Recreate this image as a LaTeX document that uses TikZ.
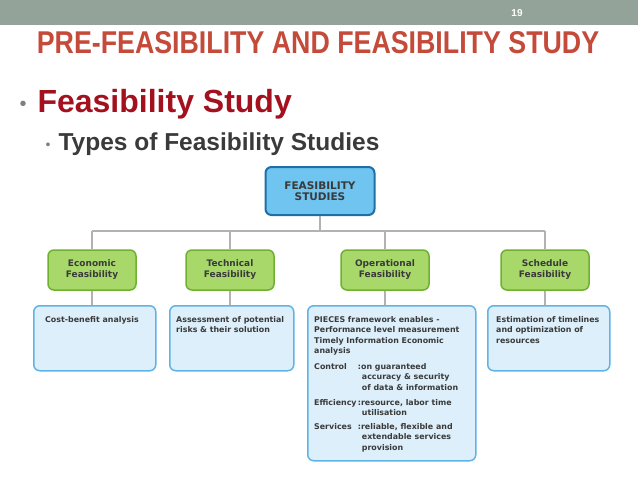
\documentclass[tikz,border=0pt]{standalone}
\usepackage{fontspec}
\setmainfont{Liberation Sans}
\newfontfamily\boxfont{DejaVu Sans}
\definecolor{barcol}{HTML}{93A39A}
\definecolor{titred}{HTML}{C44A3A}
\definecolor{darkred}{HTML}{A3101E}
\definecolor{topfill}{HTML}{6FC4F0}
\definecolor{topdraw}{HTML}{1E6FA8}
\definecolor{grfill}{HTML}{A8D86A}
\definecolor{grdraw}{HTML}{6FB030}
\definecolor{blfill}{HTML}{DCEFFA}
\definecolor{bldraw}{HTML}{5FB4E6}
\definecolor{txtgray}{HTML}{3A3A3A}
\begin{document}
\begin{tikzpicture}[x=1pt,y=-1pt,
  topbox/.style={draw=topdraw,line width=2pt,fill=topfill,rounded corners=6pt,minimum width=109pt,minimum height=48pt,align=center,font=\boxfont\bfseries\fontsize{10.5}{11.5}\selectfont,text=txtgray},
  greenbox/.style={draw=grdraw,line width=1.5pt,fill=grfill,rounded corners=6pt,minimum width=88pt,minimum height=40pt,align=center,font=\boxfont\bfseries\fontsize{9}{11}\selectfont,text=txtgray},
  bluebox/.style={draw=bldraw,line width=1.5pt,fill=blfill,rounded corners=6pt,anchor=north west,inner sep=0pt},
  boxtext/.style={anchor=north west,align=left,font=\boxfont\bfseries\fontsize{7.9}{10.4}\selectfont,text=txtgray,inner sep=0pt},
  conn/.style={draw=gray!60,line width=1.8pt}]
\useasboundingbox (0,0) rectangle (638,479);
\fill[barcol] (0,0) rectangle (638,25);
\node[text=white,font=\bfseries\fontsize{10}{11}\selectfont] (pg) at (517,13) {19};
\node[text=titred,font=\bfseries\fontsize{31.5}{34}\selectfont,xscale=0.85] (tit) at (318,43) {PRE-FEASIBILITY AND FEASIBILITY STUDY};
\node[anchor=west,text=gray,font=\fontsize{20}{22}\selectfont] (b1) at (16,106) {•};
\node[anchor=west,text=darkred,font=\bfseries\fontsize{32}{36}\selectfont] (h1) at (34,104) {Feasibility Study};
\node[anchor=west,text=gray,font=\fontsize{14}{16}\selectfont] (b2) at (42,146) {•};
\node[anchor=west,text=txtgray,font=\bfseries\fontsize{24.5}{28}\selectfont] (h2) at (55,144) {Types of Feasibility Studies};

\coordinate (jl) at (92,231);
\coordinate (jr) at (545,231);
\coordinate (jt) at (320,231);
\draw[conn] (jl) -- (jr);
\node[topbox] (top) at (320,191) {FEASIBILITY\\STUDIES};
\draw[conn] (top.south) -- (jt);

\node[greenbox] (g1) at (92,270) {Economic\\Feasibility};
\node[greenbox] (g2) at (230,270) {Technical\\Feasibility};
\node[greenbox] (g3) at (385,270) {Operational\\Feasibility};
\node[greenbox] (g4) at (545,270) {Schedule\\Feasibility};
\foreach \g/\x in {g1/92,g2/230,g3/385,g4/545}{\draw[conn] (\x,231) -- (\g.north);}

\node[bluebox,minimum width=122pt,minimum height=65pt] (c1) at (33,305) {};
\node[bluebox,minimum width=124pt,minimum height=65pt] (c2) at (169,305) {};
\node[bluebox,minimum width=168pt,minimum height=155pt] (c3) at (307,305) {};
\node[bluebox,minimum width=122pt,minimum height=65pt] (c4) at (487,305) {};
\foreach \g/\c in {g1/c1,g2/c2,g3/c3,g4/c4}{\draw[conn] (\g.south) -- (\c.north -| \g.south);}

\node[boxtext] (t1) at (45,316) {Cost-benefit analysis};
\node[boxtext] (t2) at (176,316) {Assessment of potential\\risks \& their solution};
\node[boxtext] (t4) at (496,316) {Estimation of timelines\\and optimization of\\resources};
\node[boxtext] (t3) at (314,316) {%
PIECES framework enables -\\Performance level measurement\\Timely Information Economic\\analysis\\[6pt]
\begin{tabular}{@{}l@{\,}l@{}}
Control & :on guaranteed\\ & \hspace{4pt}accuracy \& security\\ & \hspace{4pt}of data \& information\\[5pt]
Efficiency & :resource, labor time\\ & \hspace{4pt}utilisation\\[3pt]
Services & :reliable, flexible and\\ & \hspace{4pt}extendable services\\ & \hspace{4pt}provision
\end{tabular}};
\end{tikzpicture}
\end{document}
